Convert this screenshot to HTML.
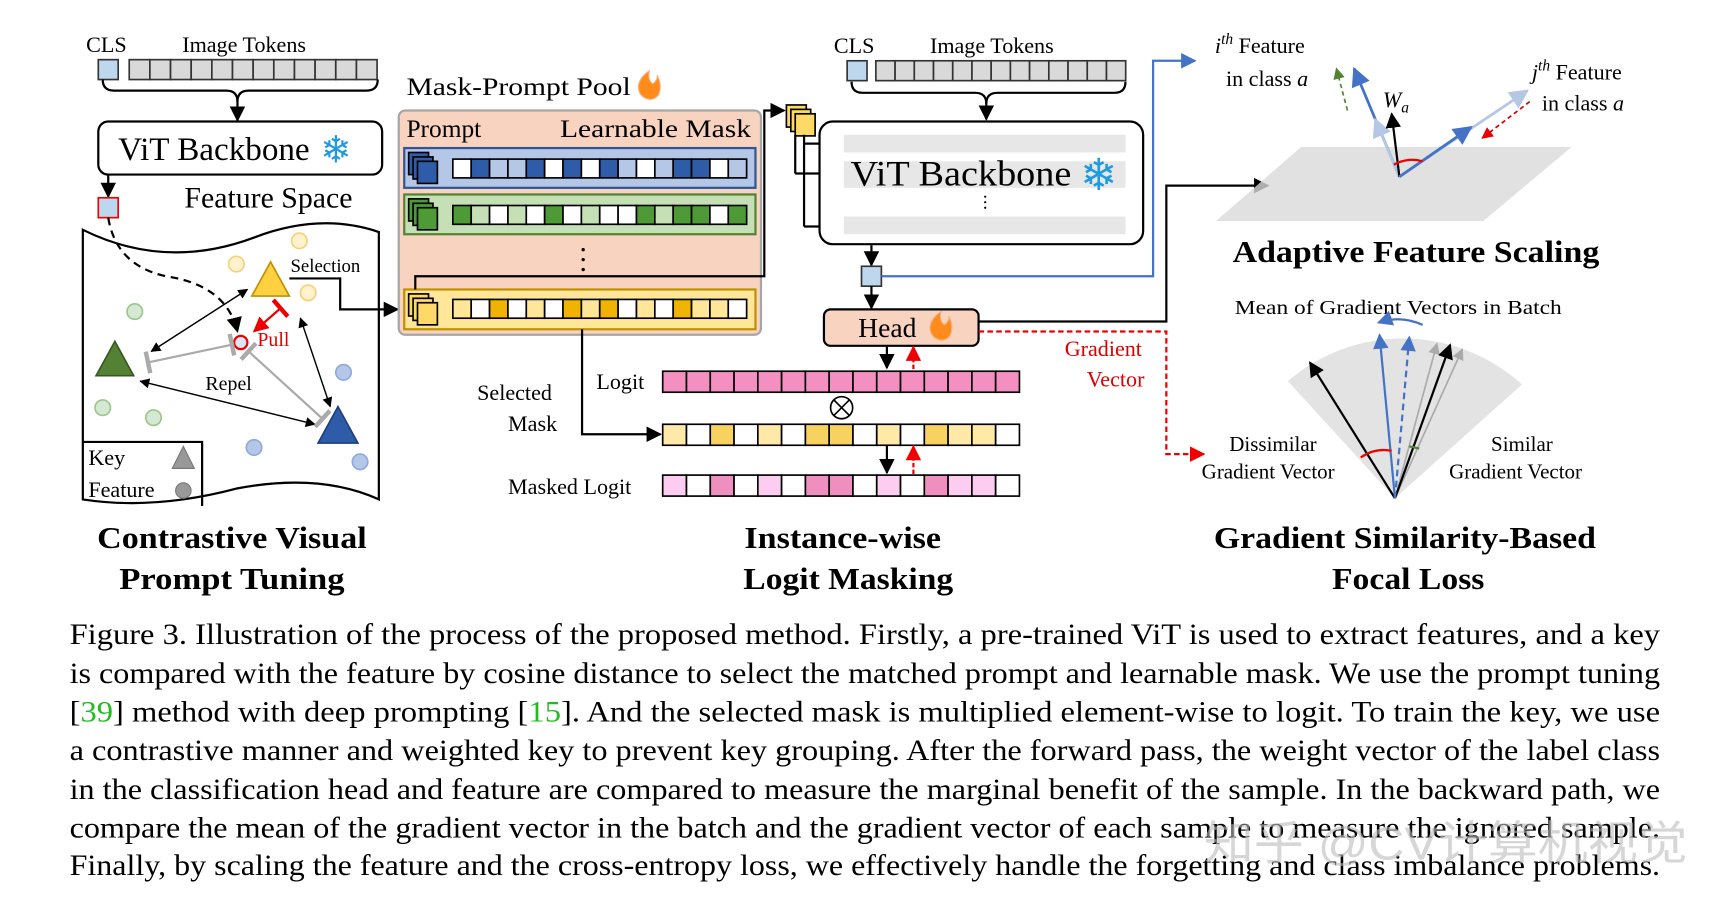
<!DOCTYPE html>
<html><head><meta charset="utf-8"><style>
html,body{margin:0;padding:0;background:#fff;}
svg{display:block;font-family:"Liberation Serif",serif;}
</style></head><body>
<svg id="s" width="1723" height="906" viewBox="0 0 1560 820" preserveAspectRatio="none" xmlns="http://www.w3.org/2000/svg">
<defs>
<marker id="a" viewBox="0 0 10 10" refX="9" refY="5" markerWidth="7" markerHeight="7" orient="auto-start-reverse"><path d="M0 0L10 5L0 10z" fill="#000"/></marker>
<marker id="ab" viewBox="0 0 10 10" refX="9" refY="5" markerWidth="7" markerHeight="7" orient="auto"><path d="M0 0L10 5L0 10z" fill="#4472c4"/></marker>
<marker id="alb" viewBox="0 0 10 10" refX="9" refY="5" markerWidth="7" markerHeight="7" orient="auto"><path d="M0 0L10 5L0 10z" fill="#b4c7e7"/></marker>
<marker id="ar" viewBox="0 0 10 10" refX="9" refY="5" markerWidth="7" markerHeight="7" orient="auto"><path d="M0 0L10 5L0 10z" fill="#e00"/></marker>
<marker id="ag" viewBox="0 0 10 10" refX="9" refY="5" markerWidth="7" markerHeight="7" orient="auto"><path d="M0 0L10 5L0 10z" fill="#548235"/></marker>
<marker id="agr" viewBox="0 0 10 10" refX="9" refY="5" markerWidth="7" markerHeight="7" orient="auto"><path d="M0 0L10 5L0 10z" fill="#aaa"/></marker>
<marker id="t" viewBox="0 0 4 10" refX="2" refY="5" markerWidth="4" markerHeight="10" orient="auto"><path d="M2 0V10" stroke="#aaa" stroke-width="2"/></marker>
<marker id="tr" viewBox="0 0 4 10" refX="2" refY="5" markerWidth="4" markerHeight="10" orient="auto"><path d="M2 0V10" stroke="#e00" stroke-width="2"/></marker>
</defs>

<!-- LEFT -->
<text x="78" y="47" font-size="20">CLS</text>
<text x="165" y="47" font-size="20">Image Tokens</text>
<rect x="89" y="54" width="18" height="18" fill="#bdd7ee" stroke="#333" stroke-width="1.5"/>
<g id="tok1"></g>
<path d="M93 72Q93 82 103 82L205 82Q215 82 215 92Q215 82 225 82L332 82Q342 82 342 72" fill="none" stroke="#000" stroke-width="2"/>
<line x1="215" y1="90" x2="215" y2="109" stroke="#000" stroke-width="2" marker-end="url(#a)"/>
<rect x="89" y="110" width="257" height="48" rx="9" fill="#fff" stroke="#000" stroke-width="2"/>
<text x="107" y="145" font-size="30">ViT Backbone</text>
<text x="290" y="147" font-size="34" fill="#1e9be0" font-family="DejaVu Sans">❄</text>
<line x1="98" y1="158" x2="98" y2="178" stroke="#000" stroke-width="2" marker-end="url(#a)"/>
<rect x="89" y="179" width="18" height="18" fill="#bdd7ee" stroke="#e00" stroke-width="1.5"/>
<text x="167" y="188" font-size="27">Feature Space</text>
<path d="M75 208Q150 245 230 215Q290 192 343 210L343 452Q290 428 215 442Q140 462 75 452Z" fill="#fff" stroke="#000" stroke-width="2"/>
<path d="M98 197Q105 240 150 250Q205 258 215 300" fill="none" stroke="#000" stroke-width="2" stroke-dasharray="7,5" marker-end="url(#a)"/>
<g stroke-width="1.5">
<circle cx="271" cy="218" r="7" fill="#fff2cc" stroke="#f4d27a"/>
<circle cx="214" cy="239" r="7" fill="#fff2cc" stroke="#f4d27a"/>
<circle cx="279" cy="265" r="7" fill="#fff2cc" stroke="#f4d27a"/>
<circle cx="122" cy="282" r="7" fill="#d5e8d4" stroke="#9cc68a"/>
<circle cx="93" cy="369" r="7" fill="#d5e8d4" stroke="#9cc68a"/>
<circle cx="139" cy="378" r="7" fill="#d5e8d4" stroke="#9cc68a"/>
<circle cx="311" cy="337" r="7" fill="#b4c7e7" stroke="#8faadc"/>
<circle cx="230" cy="405" r="7" fill="#b4c7e7" stroke="#8faadc"/>
<circle cx="326" cy="418" r="7" fill="#b4c7e7" stroke="#8faadc"/>
</g>
<path d="M245 237L228 268L262 268Z" fill="#ffc000" fill-opacity=".75" stroke="#bf9000" stroke-width="1.5"/>
<path d="M104 309L87 340L121 340Z" fill="#548235" stroke="#385723" stroke-width="1.5"/>
<path d="M306 368L288 401L324 401Z" fill="#2f5ca8" stroke="#1f3f7a" stroke-width="1.5"/>
<circle cx="218" cy="310" r="6" fill="#dde6f5" stroke="#e00" stroke-width="2"/>
<text x="233" y="313" font-size="18" fill="#d00">Pull</text>
<line x1="224" y1="262" x2="137" y2="318" stroke="#000" stroke-width="1.3" marker-start="url(#a)" marker-end="url(#a)"/>
<line x1="127" y1="345" x2="285" y2="384" stroke="#000" stroke-width="1.3" marker-start="url(#a)" marker-end="url(#a)"/>
<line x1="272" y1="288" x2="299" y2="368" stroke="#000" stroke-width="1.3" marker-start="url(#a)" marker-end="url(#a)"/>
<text x="186" y="353" font-size="18">Repel</text>
<line x1="210" y1="312" x2="134" y2="328" stroke="#aaa" stroke-width="2" marker-start="url(#t)" marker-end="url(#t)"/>
<line x1="225" y1="318" x2="292" y2="379" stroke="#aaa" stroke-width="2" marker-start="url(#t)" marker-end="url(#t)"/>
<line x1="254" y1="279" x2="230" y2="300" stroke="#e00" stroke-width="2" marker-start="url(#tr)" marker-end="url(#ar)"/>
<text x="263" y="246" font-size="17">Selection</text>
<path d="M262 252H308V280H360" fill="none" stroke="#000" stroke-width="2" marker-end="url(#a)"/>
<path d="M75 400H183V458" fill="none" stroke="#000" stroke-width="2"/>
<text x="80" y="421" font-size="20">Key</text>
<path d="M166 404L156 424L176 424Z" fill="#999" stroke="#777"/>
<text x="80" y="450" font-size="20">Feature</text>
<circle cx="166" cy="444" r="7" fill="#999" stroke="#777"/>
<text x="210" y="496" font-size="28" font-weight="bold" text-anchor="middle" textLength="244" lengthAdjust="spacingAndGlyphs">Contrastive Visual</text>
<text x="210" y="533" font-size="28" font-weight="bold" text-anchor="middle" textLength="204" lengthAdjust="spacingAndGlyphs">Prompt Tuning</text>

<!-- MIDDLE -->
<text x="368" y="86" font-size="23" textLength="203" lengthAdjust="spacingAndGlyphs">Mask-Prompt Pool</text>
<path d="M588 90Q578 88 578 78Q579 70 588 64Q586 72 591 76Q596 72 595 68Q600 78 596 86Q593 90 588 90Z" fill="#ff8c1a" stroke="#f4b183"/>
<rect x="361" y="100" width="328" height="203" rx="6" fill="#f8d3bf" stroke="#a6a6a6" stroke-width="2"/>
<text x="368" y="124" font-size="23">Prompt</text>
<text x="507" y="124" font-size="23" textLength="173" lengthAdjust="spacingAndGlyphs">Learnable Mask</text>
<rect x="366" y="134" width="318" height="36" fill="#b4c7e7" stroke="#2f5597" stroke-width="2"/>
<rect x="366" y="176" width="318" height="36" fill="#c5e0b4" stroke="#548235" stroke-width="2"/>
<rect x="366" y="262" width="318" height="36" fill="#ffe699" stroke="#bf9000" stroke-width="2"/>
<g id="icons"></g>
<g id="rows"></g>
<circle cx="528" cy="226" r="1.5"/><circle cx="528" cy="235" r="1.5"/><circle cx="528" cy="244" r="1.5"/>
<path d="M376 262V250H692V100H710" fill="none" stroke="#000" stroke-width="2" marker-end="url(#a)"/>
<path d="M527 298V393H598" fill="none" stroke="#000" stroke-width="2" marker-end="url(#a)"/>
<g id="icon2"></g>
<path d="M728 122V205" fill="none" stroke="#000" stroke-width="2"/>
<line x1="728" y1="130" x2="762" y2="130" stroke="#000" stroke-width="2" marker-end="url(#a)"/>
<line x1="720" y1="157" x2="762" y2="157" stroke="#000" stroke-width="2" marker-end="url(#a)"/>
<line x1="728" y1="205" x2="762" y2="205" stroke="#000" stroke-width="2" marker-end="url(#a)"/>
<path d="M720 122V157" fill="none" stroke="#000" stroke-width="2"/>

<text x="755" y="48" font-size="20">CLS</text>
<text x="842" y="48" font-size="20">Image Tokens</text>
<rect x="767" y="55" width="18" height="18" fill="#bdd7ee" stroke="#333" stroke-width="1.5"/>
<g id="tok2"></g>
<path d="M771 74Q771 84 781 84L883 84Q893 84 893 94Q893 84 903 84L1009 84Q1019 84 1019 74" fill="none" stroke="#000" stroke-width="2"/>
<line x1="893" y1="92" x2="893" y2="108" stroke="#000" stroke-width="2" marker-end="url(#a)"/>
<rect x="742" y="110" width="293" height="111" rx="12" fill="#fff" stroke="#000" stroke-width="2"/>
<rect x="764" y="122" width="255" height="16" fill="#e7e7e7"/>
<rect x="764" y="146" width="255" height="24" fill="#e7e7e7"/>
<rect x="764" y="196" width="255" height="16" fill="#e7e7e7"/>
<text x="770" y="168" font-size="33" textLength="200" lengthAdjust="spacingAndGlyphs">ViT Backbone</text>
<text x="978" y="172" font-size="40" fill="#1e9be0" font-family="DejaVu Sans">❄</text>
<circle cx="892" cy="178" r="1"/><circle cx="892" cy="183" r="1"/><circle cx="892" cy="188" r="1"/>
<line x1="789" y1="222" x2="789" y2="240" stroke="#000" stroke-width="2" marker-end="url(#a)"/>
<rect x="780" y="241" width="18" height="18" fill="#bdd7ee" stroke="#333" stroke-width="1.5"/>
<path d="M798 250H1044V55H1082" fill="none" stroke="#4472c4" stroke-width="2" marker-end="url(#ab)"/>
<line x1="789" y1="259" x2="789" y2="279" stroke="#000" stroke-width="2" marker-end="url(#a)"/>
<rect x="746" y="280" width="140" height="33" rx="6" fill="#f8d3bf" stroke="#000" stroke-width="2"/>
<text x="777" y="305" font-size="25">Head</text>
<path d="M852 308Q842 306 842 296Q843 288 852 282Q850 290 855 294Q860 290 859 286Q864 296 860 304Q857 308 852 308Z" fill="#ff8c1a" stroke="#f4b183"/>
<path d="M886 291H1056V168H1148" fill="none" stroke="#000" stroke-width="2" marker-end="url(#a)"/>
<path d="M886 300H1056V411H1090" fill="none" stroke="#e00" stroke-width="2" stroke-dasharray="5,3" marker-end="url(#ar)"/>
<text x="964" y="322" font-size="20" fill="#d00">Gradient</text>
<text x="984" y="350" font-size="20" fill="#d00">Vector</text>
<line x1="803" y1="313" x2="803" y2="333" stroke="#000" stroke-width="2" marker-end="url(#a)"/>
<line x1="827" y1="334" x2="827" y2="314" stroke="#e00" stroke-width="2" stroke-dasharray="4,2" marker-end="url(#ar)"/>
<text x="540" y="352" font-size="20">Logit</text>
<text x="432" y="362" font-size="20">Selected</text>
<text x="460" y="390" font-size="20">Mask</text>
<text x="460" y="447" font-size="20">Masked Logit</text>
<g id="rows2"></g>
<circle cx="762" cy="369" r="10" fill="#fff" stroke="#000" stroke-width="1.5"/>
<path d="M755 362L769 376M769 362L755 376" stroke="#000" stroke-width="1.5"/>
<line x1="803" y1="403" x2="803" y2="428" stroke="#000" stroke-width="2" marker-end="url(#a)"/>
<line x1="827" y1="429" x2="827" y2="404" stroke="#e00" stroke-width="2" stroke-dasharray="4,2" marker-end="url(#ar)"/>
<text x="763" y="496" font-size="28" font-weight="bold" text-anchor="middle" textLength="178" lengthAdjust="spacingAndGlyphs">Instance-wise</text>
<text x="768" y="533" font-size="28" font-weight="bold" text-anchor="middle" textLength="190" lengthAdjust="spacingAndGlyphs">Logit Masking</text>

<!-- RIGHT -->
<path d="M1178 133L1423 133L1343 200L1101 200Z" fill="#d9d9d9" fill-opacity=".8"/>
<line x1="1267" y1="160" x2="1226" y2="62" stroke="#4472c4" stroke-width="2.5" marker-end="url(#ab)"/>
<line x1="1267" y1="160" x2="1245" y2="108" stroke="#b4c7e7" stroke-width="2.5" marker-end="url(#alb)"/>
<line x1="1220" y1="100" x2="1210" y2="62" stroke="#548235" stroke-width="1.5" stroke-dasharray="4,3" marker-end="url(#ag)"/>
<line x1="1267" y1="160" x2="1260" y2="103" stroke="#000" stroke-width="2" marker-end="url(#a)"/>
<line x1="1267" y1="160" x2="1383" y2="82" stroke="#b4c7e7" stroke-width="2.5" marker-end="url(#alb)"/>
<line x1="1267" y1="160" x2="1332" y2="115" stroke="#4472c4" stroke-width="2.5" marker-end="url(#ab)"/>
<line x1="1385" y1="92" x2="1342" y2="125" stroke="#c00" stroke-width="1.5" stroke-dasharray="4,3" marker-end="url(#ar)"/>
<path d="M1262 149Q1275 142 1288 146" fill="none" stroke="#e00" stroke-width="2"/>
<text x="1100" y="48" font-size="20" font-style="italic">i<tspan dy="-8" font-size="14">th</tspan><tspan dy="8" font-style="normal"> Feature</tspan></text>
<text x="1110" y="78" font-size="20">in class <tspan font-style="italic">a</tspan></text>
<text x="1387" y="72" font-size="20" font-style="italic">j<tspan dy="-8" font-size="14">th</tspan><tspan dy="8" font-style="normal"> Feature</tspan></text>
<text x="1396" y="100" font-size="20">in class <tspan font-style="italic">a</tspan></text>
<text x="1252" y="97" font-size="20" font-style="italic">W<tspan dy="5" font-size="14">a</tspan></text>
<text x="1282" y="237" font-size="28" font-weight="bold" text-anchor="middle" textLength="332" lengthAdjust="spacingAndGlyphs">Adaptive Feature Scaling</text>
<text x="1118" y="284" font-size="18" textLength="296" lengthAdjust="spacingAndGlyphs">Mean of Gradient Vectors in Batch</text>
<path d="M1288 294Q1268 285 1248 292" fill="none" stroke="#4472c4" stroke-width="2" marker-end="url(#ab)"/>
<path d="M1263 451L1166 345A160 160 0 0 1 1378 348Z" fill="#e3e3e3"/>
<line x1="1263" y1="451" x2="1186" y2="328" stroke="#000" stroke-width="2" marker-end="url(#a)"/>
<line x1="1263" y1="451" x2="1324" y2="316" stroke="#aaa" stroke-width="1.5" marker-end="url(#agr)"/>
<line x1="1263" y1="451" x2="1301" y2="311" stroke="#aaa" stroke-width="1.5" marker-end="url(#agr)"/>
<line x1="1263" y1="451" x2="1313" y2="312" stroke="#000" stroke-width="2" marker-end="url(#a)"/>
<line x1="1263" y1="451" x2="1249" y2="303" stroke="#4472c4" stroke-width="2" marker-end="url(#ab)"/>
<line x1="1263" y1="451" x2="1276" y2="305" stroke="#4472c4" stroke-width="2" stroke-dasharray="6,4" marker-end="url(#ab)"/>
<path d="M1232 414Q1245 405 1260 408" fill="none" stroke="#e00" stroke-width="2"/>
<path d="M1276 404L1285 406" stroke="#548235" stroke-width="2"/>
<text x="1113" y="408" font-size="19">Dissimilar</text>
<text x="1088" y="433" font-size="19">Gradient Vector</text>
<text x="1350" y="408" font-size="19">Similar</text>
<text x="1312" y="433" font-size="19">Gradient Vector</text>
<text x="1272" y="496" font-size="28" font-weight="bold" text-anchor="middle" textLength="346" lengthAdjust="spacingAndGlyphs">Gradient Similarity-Based</text>
<text x="1275" y="533" font-size="28" font-weight="bold" text-anchor="middle" textLength="138" lengthAdjust="spacingAndGlyphs">Focal Loss</text>

<!-- CAPTION -->
<g font-size="27">
<text x="63" y="583" textLength="1440" lengthAdjust="spacingAndGlyphs">Figure 3.  Illustration of the process of the proposed method. Firstly, a pre-trained ViT is used to extract features, and a key</text>
<text x="63" y="618" textLength="1440" lengthAdjust="spacingAndGlyphs">is compared with the feature by cosine distance to select the matched prompt and learnable mask. We use the prompt tuning</text>
<text x="63" y="653" textLength="1440" lengthAdjust="spacingAndGlyphs">[<tspan fill="#22bb22">39</tspan>] method with deep prompting [<tspan fill="#22bb22">15</tspan>]. And the selected mask is multiplied element-wise to logit. To train the key, we use</text>
<text x="63" y="688" textLength="1440" lengthAdjust="spacingAndGlyphs">a contrastive manner and weighted key to prevent key grouping. After the forward pass, the weight vector of the label class</text>
<text x="63" y="723" textLength="1440" lengthAdjust="spacingAndGlyphs">in the classification head and feature are compared to measure the marginal benefit of the sample. In the backward path, we</text>
<text x="63" y="758" textLength="1440" lengthAdjust="spacingAndGlyphs">compare the mean of the gradient vector in the batch and the gradient vector of each sample to measure the ignored sample.</text>
<text x="63" y="792" textLength="1440" lengthAdjust="spacingAndGlyphs">Finally, by scaling the feature and the cross-entropy loss, we effectively handle the forgetting and class imbalance problems.</text>
</g>
<text x="1090" y="778" font-size="42" fill="#bbb" fill-opacity=".6" font-family="Liberation Sans,Noto Sans CJK SC,sans-serif" textLength="438" lengthAdjust="spacingAndGlyphs">知乎 @CV计算机视觉</text>
</svg>
<script>
var NS="http://www.w3.org/2000/svg";
function R(g,x,y,w,h,f,s){var r=document.createElementNS(NS,"rect");r.setAttribute("x",x);r.setAttribute("y",y);r.setAttribute("width",w);r.setAttribute("height",h);r.setAttribute("fill",f);r.setAttribute("stroke",s||"#000");r.setAttribute("stroke-width","1.5");document.getElementById(g).appendChild(r);}
for(var i=0;i<12;i++)R("tok1",117+i*18.7,54,18.7,18,"#d9d9d9","#333");
for(var i=0;i<13;i++)R("tok2",793+i*17.4,55,17.4,18,"#d9d9d9","#333");
function row(y,pat,cols,x0,x1,h,g){var n=pat.length,w=(x1-x0)/n;for(var i=0;i<n;i++)R(g,x0+i*w,y,w,h,cols[pat[i]]);}
row(144,"WDLLDWDWDLWLDDWL",{W:"#fff",D:"#2f5ca8",L:"#b4c7e7"},410,676,17,"rows");
row(186,"DLWLWDWLWWDLDDWD",{W:"#fff",D:"#4e9a36",L:"#c5e0b4"},410,676,17,"rows");
row(271,"LWDWLWDLDWLWDLLW",{W:"#fff",D:"#f0b400",L:"#ffe699"},410,676,17,"rows");
row(336,"PPPPPPPPPPPPPPP",{P:"#f48fc1"},600,923,19,"rows2");
row(384,"LWMWLWMMWLWMLLW",{W:"#fff",M:"#f7d260",L:"#ffe9a8"},600,923,19,"rows2");
row(430,"LWMWLWMMWLWMLLW",{W:"#fff",M:"#ef8fbf",L:"#fccdf0"},600,923,19,"rows2");
function icon(g,x,y,f,s){for(var k=0;k<3;k++)R(g,x+k*4,y+k*4,18,20,f,"#000");}
icon("icons",370,138,"#2f5ca8");icon("icons",370,180,"#4e9a36");icon("icons",370,266,"#ffd966");
icon("icon2",712,95,"#ffd966");
</script>
</body></html>
